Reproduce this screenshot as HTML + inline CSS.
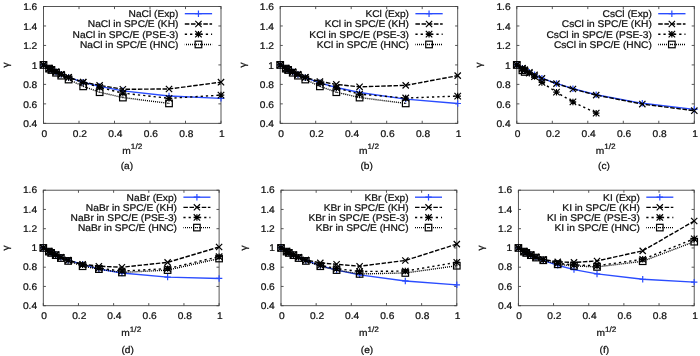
<!DOCTYPE html>
<html><head><meta charset="utf-8"><title>Activity coefficients</title>
<style>html,body{margin:0;padding:0;background:#fff}svg{display:block}text{font-family:"Liberation Sans", sans-serif;font-size:10.2px;fill:#111;stroke:#111;stroke-width:0.25px;text-rendering:geometricPrecision}</style>
</head><body>
<svg width="700" height="356" viewBox="0 0 700 356">
<rect width="700" height="356" fill="#fff"/>
<g><rect x="43.5" y="6.5" width="177.5" height="116.85" fill="none" stroke="#444" stroke-width="0.9"/><path d="M43.5 123.35v-2.6M43.5 6.5v2.6M79 123.35v-2.6M79 6.5v2.6M114.5 123.35v-2.6M114.5 6.5v2.6M150 123.35v-2.6M150 6.5v2.6M185.5 123.35v-2.6M185.5 6.5v2.6M221 123.35v-2.6M221 6.5v2.6M43.5 123.35h2.6M221 123.35h-2.6M43.5 103.87h2.6M221 103.87h-2.6M43.5 84.4h2.6M221 84.4h-2.6M43.5 64.92h2.6M221 64.92h-2.6M43.5 45.45h2.6M221 45.45h-2.6M43.5 25.98h2.6M221 25.98h-2.6M43.5 6.5h2.6M221 6.5h-2.6" stroke="#444" stroke-width="0.9" fill="none"/><text transform="translate(44.3 137.35) scale(1 0.95)" text-anchor="middle">0</text><text transform="translate(79.8 137.35) scale(1 0.95)" text-anchor="middle">0.2</text><text transform="translate(115.3 137.35) scale(1 0.95)" text-anchor="middle">0.4</text><text transform="translate(150.8 137.35) scale(1 0.95)" text-anchor="middle">0.6</text><text transform="translate(186.3 137.35) scale(1 0.95)" text-anchor="middle">0.8</text><text transform="translate(221.8 137.35) scale(1 0.95)" text-anchor="middle">1</text><text transform="translate(37.3 127.05) scale(1 0.95)" text-anchor="end">0.4</text><text transform="translate(37.3 107.57) scale(1 0.95)" text-anchor="end">0.6</text><text transform="translate(37.3 88.1) scale(1 0.95)" text-anchor="end">0.8</text><text transform="translate(37.3 68.62) scale(1 0.95)" text-anchor="end">1</text><text transform="translate(37.3 49.15) scale(1 0.95)" text-anchor="end">1.2</text><text transform="translate(37.3 29.68) scale(1 0.95)" text-anchor="end">1.4</text><text transform="translate(37.3 10.2) scale(1 0.95)" text-anchor="end">1.6</text><text transform="translate(122.35 153.85) scale(1 0.95)">m<tspan dy="-5" font-size="8.2">1/2</tspan></text><text transform="translate(126.95 169.35) scale(1 0.95)" text-anchor="middle" font-size="9.4">(a)</text><text transform="translate(9 64.92) rotate(-90) scale(1 0.95)" text-anchor="middle" font-size="9.2">γ</text><path d="M43.5 64.92L49.11 68.33L51.43 69.6L56.05 71.94L61.25 74.37L68.6 77.39L83.19 82.26L99.63 86.44L122.88 90.83L169.01 95.99L221 98.32" stroke="#2a4cff" stroke-width="1.35" fill="none"/><path d="M40.25 64.92H46.75M43.5 61.67V68.17" stroke="#2a4cff" stroke-width="1.2" fill="none"/><path d="M45.86 68.33H52.36M49.11 65.08V71.58" stroke="#2a4cff" stroke-width="1.2" fill="none"/><path d="M48.18 69.6H54.68M51.43 66.35V72.85" stroke="#2a4cff" stroke-width="1.2" fill="none"/><path d="M52.8 71.94H59.3M56.05 68.69V75.19" stroke="#2a4cff" stroke-width="1.2" fill="none"/><path d="M58 74.37H64.5M61.25 71.12V77.62" stroke="#2a4cff" stroke-width="1.2" fill="none"/><path d="M65.35 77.39H71.85M68.6 74.14V80.64" stroke="#2a4cff" stroke-width="1.2" fill="none"/><path d="M79.94 82.26H86.44M83.19 79.01V85.51" stroke="#2a4cff" stroke-width="1.2" fill="none"/><path d="M96.38 86.44H102.88M99.63 83.19V89.69" stroke="#2a4cff" stroke-width="1.2" fill="none"/><path d="M119.63 90.83H126.13M122.88 87.58V94.08" stroke="#2a4cff" stroke-width="1.2" fill="none"/><path d="M165.76 95.99H172.26M169.01 92.74V99.24" stroke="#2a4cff" stroke-width="1.2" fill="none"/><path d="M217.75 98.32H224.25M221 95.07V101.57" stroke="#2a4cff" stroke-width="1.2" fill="none"/><path d="M43.5 64.92L49.11 68.33L51.43 69.6L56.05 71.94L61.25 74.37L68.6 77.39L83.19 81.97L99.63 85.37L122.88 89.27L169.01 88.98L221 82.16" stroke="#000" stroke-width="1.4" stroke-dasharray="4.55 1.62" fill="none"/><path d="M40.35 61.77L46.65 68.08M40.35 68.08L46.65 61.77" stroke="#000" stroke-width="1.2" fill="none"/><path d="M45.96 65.18L52.26 71.48M45.96 71.48L52.26 65.18" stroke="#000" stroke-width="1.2" fill="none"/><path d="M48.28 66.45L54.58 72.75M48.28 72.75L54.58 66.45" stroke="#000" stroke-width="1.2" fill="none"/><path d="M52.9 68.79L59.2 75.09M52.9 75.09L59.2 68.79" stroke="#000" stroke-width="1.2" fill="none"/><path d="M58.1 71.22L64.4 77.52M58.1 77.52L64.4 71.22" stroke="#000" stroke-width="1.2" fill="none"/><path d="M65.45 74.24L71.75 80.54M65.45 80.54L71.75 74.24" stroke="#000" stroke-width="1.2" fill="none"/><path d="M80.04 78.82L86.34 85.12M80.04 85.12L86.34 78.82" stroke="#000" stroke-width="1.2" fill="none"/><path d="M96.48 82.22L102.78 88.52M96.48 88.52L102.78 82.22" stroke="#000" stroke-width="1.2" fill="none"/><path d="M119.73 86.12L126.03 92.42M119.73 92.42L126.03 86.12" stroke="#000" stroke-width="1.2" fill="none"/><path d="M165.86 85.83L172.16 92.13M165.86 92.13L172.16 85.83" stroke="#000" stroke-width="1.2" fill="none"/><path d="M217.85 79.01L224.15 85.31M217.85 85.31L224.15 79.01" stroke="#000" stroke-width="1.2" fill="none"/><path d="M43.5 64.92L49.11 68.33L51.43 69.6L56.05 71.94L61.25 74.37L68.6 77.39L83.19 82.45L99.63 87.32L122.88 93.16L169.01 98.32L221 95.11" stroke="#000" stroke-width="1.4" stroke-dasharray="2.25 3.0" fill="none"/><path d="M40.25 61.67L46.75 68.17M40.25 68.17L46.75 61.67M40.25 64.92H46.75M43.5 61.67V68.17" stroke="#000" stroke-width="1.2" fill="none"/><path d="M45.86 65.08L52.36 71.58M45.86 71.58L52.36 65.08M45.86 68.33H52.36M49.11 65.08V71.58" stroke="#000" stroke-width="1.2" fill="none"/><path d="M48.18 66.35L54.68 72.85M48.18 72.85L54.68 66.35M48.18 69.6H54.68M51.43 66.35V72.85" stroke="#000" stroke-width="1.2" fill="none"/><path d="M52.8 68.69L59.3 75.19M52.8 75.19L59.3 68.69M52.8 71.94H59.3M56.05 68.69V75.19" stroke="#000" stroke-width="1.2" fill="none"/><path d="M58 71.12L64.5 77.62M58 77.62L64.5 71.12M58 74.37H64.5M61.25 71.12V77.62" stroke="#000" stroke-width="1.2" fill="none"/><path d="M65.35 74.14L71.85 80.64M65.35 80.64L71.85 74.14M65.35 77.39H71.85M68.6 74.14V80.64" stroke="#000" stroke-width="1.2" fill="none"/><path d="M79.94 79.2L86.44 85.7M79.94 85.7L86.44 79.2M79.94 82.45H86.44M83.19 79.2V85.7" stroke="#000" stroke-width="1.2" fill="none"/><path d="M96.38 84.07L102.88 90.57M96.38 90.57L102.88 84.07M96.38 87.32H102.88M99.63 84.07V90.57" stroke="#000" stroke-width="1.2" fill="none"/><path d="M119.63 89.91L126.13 96.41M119.63 96.41L126.13 89.91M119.63 93.16H126.13M122.88 89.91V96.41" stroke="#000" stroke-width="1.2" fill="none"/><path d="M165.76 95.07L172.26 101.57M165.76 101.57L172.26 95.07M165.76 98.32H172.26M169.01 95.07V101.57" stroke="#000" stroke-width="1.2" fill="none"/><path d="M217.75 91.86L224.25 98.36M217.75 98.36L224.25 91.86M217.75 95.11H224.25M221 91.86V98.36" stroke="#000" stroke-width="1.2" fill="none"/><path d="M43.5 64.92L49.11 68.63L51.43 69.99L56.05 72.72L61.25 75.64L68.6 79.53L83.19 86.35L99.63 92.19L122.88 97.55L169.01 103.39" stroke="#000" stroke-width="1.4" stroke-dasharray="1.05 1.0" fill="none"/><rect x="40.2" y="61.62" width="6.6" height="6.6" stroke="#000" stroke-width="1.2" fill="none"/><rect x="43" y="64.42" width="1" height="1" fill="#000"/><rect x="45.81" y="65.33" width="6.6" height="6.6" stroke="#000" stroke-width="1.2" fill="none"/><rect x="48.61" y="68.13" width="1" height="1" fill="#000"/><rect x="48.13" y="66.69" width="6.6" height="6.6" stroke="#000" stroke-width="1.2" fill="none"/><rect x="50.93" y="69.49" width="1" height="1" fill="#000"/><rect x="52.75" y="69.42" width="6.6" height="6.6" stroke="#000" stroke-width="1.2" fill="none"/><rect x="55.55" y="72.22" width="1" height="1" fill="#000"/><rect x="57.95" y="72.34" width="6.6" height="6.6" stroke="#000" stroke-width="1.2" fill="none"/><rect x="60.75" y="75.14" width="1" height="1" fill="#000"/><rect x="65.3" y="76.23" width="6.6" height="6.6" stroke="#000" stroke-width="1.2" fill="none"/><rect x="68.1" y="79.03" width="1" height="1" fill="#000"/><rect x="79.89" y="83.05" width="6.6" height="6.6" stroke="#000" stroke-width="1.2" fill="none"/><rect x="82.69" y="85.85" width="1" height="1" fill="#000"/><rect x="96.33" y="88.89" width="6.6" height="6.6" stroke="#000" stroke-width="1.2" fill="none"/><rect x="99.13" y="91.69" width="1" height="1" fill="#000"/><rect x="119.58" y="94.25" width="6.6" height="6.6" stroke="#000" stroke-width="1.2" fill="none"/><rect x="122.38" y="97.05" width="1" height="1" fill="#000"/><rect x="165.71" y="100.09" width="6.6" height="6.6" stroke="#000" stroke-width="1.2" fill="none"/><rect x="168.51" y="102.89" width="1" height="1" fill="#000"/><text transform="translate(178.4 17) scale(1 0.95)" text-anchor="end">NaCl (Exp)</text><path d="M184.8 13.7H212.1" stroke="#2a4cff" stroke-width="1.35"/><path d="M195.2 13.7H201.7M198.45 10.45V16.95" stroke="#2a4cff" stroke-width="1.2" fill="none"/><text transform="translate(178.4 27.25) scale(1 0.95)" text-anchor="end">NaCl in SPC/E (KH)</text><path d="M184.8 23.95H212.1" stroke="#000" stroke-width="1.4" stroke-dasharray="4.55 1.62"/><path d="M195.3 20.8L201.6 27.1M195.3 27.1L201.6 20.8" stroke="#000" stroke-width="1.2" fill="none"/><text transform="translate(178.4 37.5) scale(1 0.95)" text-anchor="end">NaCl in SPC/E (PSE-3)</text><path d="M184.8 34.2H212.1" stroke="#000" stroke-width="1.4" stroke-dasharray="2.25 3.0"/><path d="M195.2 30.95L201.7 37.45M195.2 37.45L201.7 30.95M195.2 34.2H201.7M198.45 30.95V37.45" stroke="#000" stroke-width="1.2" fill="none"/><text transform="translate(178.4 47.75) scale(1 0.95)" text-anchor="end">NaCl in SPC/E (HNC)</text><path d="M184.8 44.45H212.1" stroke="#000" stroke-width="1.4" stroke-dasharray="1 1" stroke-dashoffset="0.8"/><rect x="195.15" y="41.15" width="6.6" height="6.6" stroke="#000" stroke-width="1.2" fill="none"/><rect x="197.95" y="43.95" width="1" height="1" fill="#000"/></g>
<g><rect x="280.2" y="6.5" width="177.5" height="116.85" fill="none" stroke="#444" stroke-width="0.9"/><path d="M280.2 123.35v-2.6M280.2 6.5v2.6M315.7 123.35v-2.6M315.7 6.5v2.6M351.2 123.35v-2.6M351.2 6.5v2.6M386.7 123.35v-2.6M386.7 6.5v2.6M422.2 123.35v-2.6M422.2 6.5v2.6M457.7 123.35v-2.6M457.7 6.5v2.6M280.2 123.35h2.6M457.7 123.35h-2.6M280.2 103.87h2.6M457.7 103.87h-2.6M280.2 84.4h2.6M457.7 84.4h-2.6M280.2 64.92h2.6M457.7 64.92h-2.6M280.2 45.45h2.6M457.7 45.45h-2.6M280.2 25.98h2.6M457.7 25.98h-2.6M280.2 6.5h2.6M457.7 6.5h-2.6" stroke="#444" stroke-width="0.9" fill="none"/><text transform="translate(281 137.35) scale(1 0.95)" text-anchor="middle">0</text><text transform="translate(316.5 137.35) scale(1 0.95)" text-anchor="middle">0.2</text><text transform="translate(352 137.35) scale(1 0.95)" text-anchor="middle">0.4</text><text transform="translate(387.5 137.35) scale(1 0.95)" text-anchor="middle">0.6</text><text transform="translate(423 137.35) scale(1 0.95)" text-anchor="middle">0.8</text><text transform="translate(458.5 137.35) scale(1 0.95)" text-anchor="middle">1</text><text transform="translate(274 127.05) scale(1 0.95)" text-anchor="end">0.4</text><text transform="translate(274 107.57) scale(1 0.95)" text-anchor="end">0.6</text><text transform="translate(274 88.1) scale(1 0.95)" text-anchor="end">0.8</text><text transform="translate(274 68.62) scale(1 0.95)" text-anchor="end">1</text><text transform="translate(274 49.15) scale(1 0.95)" text-anchor="end">1.2</text><text transform="translate(274 29.68) scale(1 0.95)" text-anchor="end">1.4</text><text transform="translate(274 10.2) scale(1 0.95)" text-anchor="end">1.6</text><text transform="translate(359.05 153.85) scale(1 0.95)">m<tspan dy="-5" font-size="8.2">1/2</tspan></text><text transform="translate(366.65 169.35) scale(1 0.95)" text-anchor="middle" font-size="9.4">(b)</text><text transform="translate(245.7 64.92) rotate(-90) scale(1 0.95)" text-anchor="middle" font-size="9.2">γ</text><path d="M280.2 64.92L285.81 68.33L288.13 69.7L292.75 72.03L297.95 74.57L305.3 77.68L319.89 82.84L336.33 87.52L359.58 92.48L405.71 99.1L457.7 103.49" stroke="#2a4cff" stroke-width="1.35" fill="none"/><path d="M276.95 64.92H283.45M280.2 61.67V68.17" stroke="#2a4cff" stroke-width="1.2" fill="none"/><path d="M282.56 68.33H289.06M285.81 65.08V71.58" stroke="#2a4cff" stroke-width="1.2" fill="none"/><path d="M284.88 69.7H291.38M288.13 66.45V72.95" stroke="#2a4cff" stroke-width="1.2" fill="none"/><path d="M289.5 72.03H296M292.75 68.78V75.28" stroke="#2a4cff" stroke-width="1.2" fill="none"/><path d="M294.7 74.57H301.2M297.95 71.32V77.82" stroke="#2a4cff" stroke-width="1.2" fill="none"/><path d="M302.05 77.68H308.55M305.3 74.43V80.93" stroke="#2a4cff" stroke-width="1.2" fill="none"/><path d="M316.64 82.84H323.14M319.89 79.59V86.09" stroke="#2a4cff" stroke-width="1.2" fill="none"/><path d="M333.08 87.52H339.58M336.33 84.27V90.77" stroke="#2a4cff" stroke-width="1.2" fill="none"/><path d="M356.33 92.48H362.83M359.58 89.23V95.73" stroke="#2a4cff" stroke-width="1.2" fill="none"/><path d="M402.46 99.1H408.96M405.71 95.85V102.35" stroke="#2a4cff" stroke-width="1.2" fill="none"/><path d="M454.45 103.49H460.95M457.7 100.24V106.74" stroke="#2a4cff" stroke-width="1.2" fill="none"/><path d="M280.2 64.92L285.81 68.33L288.13 69.6L292.75 71.94L297.95 74.37L305.3 77.39L319.89 81.48L336.33 84.4L359.58 86.83L405.71 85.37L457.7 75.64" stroke="#000" stroke-width="1.4" stroke-dasharray="4.55 1.62" fill="none"/><path d="M277.05 61.77L283.35 68.08M277.05 68.08L283.35 61.77" stroke="#000" stroke-width="1.2" fill="none"/><path d="M282.66 65.18L288.96 71.48M282.66 71.48L288.96 65.18" stroke="#000" stroke-width="1.2" fill="none"/><path d="M284.98 66.45L291.28 72.75M284.98 72.75L291.28 66.45" stroke="#000" stroke-width="1.2" fill="none"/><path d="M289.6 68.79L295.9 75.09M289.6 75.09L295.9 68.79" stroke="#000" stroke-width="1.2" fill="none"/><path d="M294.8 71.22L301.1 77.52M294.8 77.52L301.1 71.22" stroke="#000" stroke-width="1.2" fill="none"/><path d="M302.15 74.24L308.45 80.54M302.15 80.54L308.45 74.24" stroke="#000" stroke-width="1.2" fill="none"/><path d="M316.74 78.33L323.04 84.63M316.74 84.63L323.04 78.33" stroke="#000" stroke-width="1.2" fill="none"/><path d="M333.18 81.25L339.48 87.55M333.18 87.55L339.48 81.25" stroke="#000" stroke-width="1.2" fill="none"/><path d="M356.43 83.68L362.73 89.98M356.43 89.98L362.73 83.68" stroke="#000" stroke-width="1.2" fill="none"/><path d="M402.56 82.22L408.86 88.52M402.56 88.52L408.86 82.22" stroke="#000" stroke-width="1.2" fill="none"/><path d="M454.55 72.49L460.85 78.79M454.55 78.79L460.85 72.49" stroke="#000" stroke-width="1.2" fill="none"/><path d="M280.2 64.92L285.81 68.33L288.13 69.6L292.75 71.94L297.95 74.37L305.3 77.39L319.89 82.94L336.33 87.81L359.58 94.14L405.71 98.03L457.7 96.08" stroke="#000" stroke-width="1.4" stroke-dasharray="2.25 3.0" fill="none"/><path d="M276.95 61.67L283.45 68.17M276.95 68.17L283.45 61.67M276.95 64.92H283.45M280.2 61.67V68.17" stroke="#000" stroke-width="1.2" fill="none"/><path d="M282.56 65.08L289.06 71.58M282.56 71.58L289.06 65.08M282.56 68.33H289.06M285.81 65.08V71.58" stroke="#000" stroke-width="1.2" fill="none"/><path d="M284.88 66.35L291.38 72.85M284.88 72.85L291.38 66.35M284.88 69.6H291.38M288.13 66.35V72.85" stroke="#000" stroke-width="1.2" fill="none"/><path d="M289.5 68.69L296 75.19M289.5 75.19L296 68.69M289.5 71.94H296M292.75 68.69V75.19" stroke="#000" stroke-width="1.2" fill="none"/><path d="M294.7 71.12L301.2 77.62M294.7 77.62L301.2 71.12M294.7 74.37H301.2M297.95 71.12V77.62" stroke="#000" stroke-width="1.2" fill="none"/><path d="M302.05 74.14L308.55 80.64M302.05 80.64L308.55 74.14M302.05 77.39H308.55M305.3 74.14V80.64" stroke="#000" stroke-width="1.2" fill="none"/><path d="M316.64 79.69L323.14 86.19M316.64 86.19L323.14 79.69M316.64 82.94H323.14M319.89 79.69V86.19" stroke="#000" stroke-width="1.2" fill="none"/><path d="M333.08 84.56L339.58 91.06M333.08 91.06L339.58 84.56M333.08 87.81H339.58M336.33 84.56V91.06" stroke="#000" stroke-width="1.2" fill="none"/><path d="M356.33 90.89L362.83 97.39M356.33 97.39L362.83 90.89M356.33 94.14H362.83M359.58 90.89V97.39" stroke="#000" stroke-width="1.2" fill="none"/><path d="M402.46 94.78L408.96 101.28M402.46 101.28L408.96 94.78M402.46 98.03H408.96M405.71 94.78V101.28" stroke="#000" stroke-width="1.2" fill="none"/><path d="M454.45 92.83L460.95 99.33M454.45 99.33L460.95 92.83M454.45 96.08H460.95M457.7 92.83V99.33" stroke="#000" stroke-width="1.2" fill="none"/><path d="M280.2 64.92L285.81 68.63L288.13 69.99L292.75 72.72L297.95 75.64L305.3 79.53L319.89 86.35L336.33 92.19L359.58 97.55L405.71 103.39" stroke="#000" stroke-width="1.4" stroke-dasharray="1.05 1.0" fill="none"/><rect x="276.9" y="61.62" width="6.6" height="6.6" stroke="#000" stroke-width="1.2" fill="none"/><rect x="279.7" y="64.42" width="1" height="1" fill="#000"/><rect x="282.51" y="65.33" width="6.6" height="6.6" stroke="#000" stroke-width="1.2" fill="none"/><rect x="285.31" y="68.13" width="1" height="1" fill="#000"/><rect x="284.83" y="66.69" width="6.6" height="6.6" stroke="#000" stroke-width="1.2" fill="none"/><rect x="287.63" y="69.49" width="1" height="1" fill="#000"/><rect x="289.45" y="69.42" width="6.6" height="6.6" stroke="#000" stroke-width="1.2" fill="none"/><rect x="292.25" y="72.22" width="1" height="1" fill="#000"/><rect x="294.65" y="72.34" width="6.6" height="6.6" stroke="#000" stroke-width="1.2" fill="none"/><rect x="297.45" y="75.14" width="1" height="1" fill="#000"/><rect x="302" y="76.23" width="6.6" height="6.6" stroke="#000" stroke-width="1.2" fill="none"/><rect x="304.8" y="79.03" width="1" height="1" fill="#000"/><rect x="316.59" y="83.05" width="6.6" height="6.6" stroke="#000" stroke-width="1.2" fill="none"/><rect x="319.39" y="85.85" width="1" height="1" fill="#000"/><rect x="333.03" y="88.89" width="6.6" height="6.6" stroke="#000" stroke-width="1.2" fill="none"/><rect x="335.83" y="91.69" width="1" height="1" fill="#000"/><rect x="356.28" y="94.25" width="6.6" height="6.6" stroke="#000" stroke-width="1.2" fill="none"/><rect x="359.08" y="97.05" width="1" height="1" fill="#000"/><rect x="402.41" y="100.09" width="6.6" height="6.6" stroke="#000" stroke-width="1.2" fill="none"/><rect x="405.21" y="102.89" width="1" height="1" fill="#000"/><text transform="translate(409 17) scale(1 0.95)" text-anchor="end">KCl (Exp)</text><path d="M415.4 13.7H442.7" stroke="#2a4cff" stroke-width="1.35"/><path d="M425.8 13.7H432.3M429.05 10.45V16.95" stroke="#2a4cff" stroke-width="1.2" fill="none"/><text transform="translate(409 27.25) scale(1 0.95)" text-anchor="end">KCl in SPC/E (KH)</text><path d="M415.4 23.95H442.7" stroke="#000" stroke-width="1.4" stroke-dasharray="4.55 1.62"/><path d="M425.9 20.8L432.2 27.1M425.9 27.1L432.2 20.8" stroke="#000" stroke-width="1.2" fill="none"/><text transform="translate(409 37.5) scale(1 0.95)" text-anchor="end">KCl in SPC/E (PSE-3)</text><path d="M415.4 34.2H442.7" stroke="#000" stroke-width="1.4" stroke-dasharray="2.25 3.0"/><path d="M425.8 30.95L432.3 37.45M425.8 37.45L432.3 30.95M425.8 34.2H432.3M429.05 30.95V37.45" stroke="#000" stroke-width="1.2" fill="none"/><text transform="translate(409 47.75) scale(1 0.95)" text-anchor="end">KCl in SPC/E (HNC)</text><path d="M415.4 44.45H442.7" stroke="#000" stroke-width="1.4" stroke-dasharray="1 1" stroke-dashoffset="0.4"/><rect x="425.75" y="41.15" width="6.6" height="6.6" stroke="#000" stroke-width="1.2" fill="none"/><rect x="428.55" y="43.95" width="1" height="1" fill="#000"/></g>
<g><rect x="516.8" y="6.5" width="177.5" height="116.85" fill="none" stroke="#444" stroke-width="0.9"/><path d="M516.8 123.35v-2.6M516.8 6.5v2.6M552.3 123.35v-2.6M552.3 6.5v2.6M587.8 123.35v-2.6M587.8 6.5v2.6M623.3 123.35v-2.6M623.3 6.5v2.6M658.8 123.35v-2.6M658.8 6.5v2.6M694.3 123.35v-2.6M694.3 6.5v2.6M516.8 123.35h2.6M694.3 123.35h-2.6M516.8 103.87h2.6M694.3 103.87h-2.6M516.8 84.4h2.6M694.3 84.4h-2.6M516.8 64.92h2.6M694.3 64.92h-2.6M516.8 45.45h2.6M694.3 45.45h-2.6M516.8 25.98h2.6M694.3 25.98h-2.6M516.8 6.5h2.6M694.3 6.5h-2.6" stroke="#444" stroke-width="0.9" fill="none"/><text transform="translate(517.6 137.35) scale(1 0.95)" text-anchor="middle">0</text><text transform="translate(553.1 137.35) scale(1 0.95)" text-anchor="middle">0.2</text><text transform="translate(588.6 137.35) scale(1 0.95)" text-anchor="middle">0.4</text><text transform="translate(624.1 137.35) scale(1 0.95)" text-anchor="middle">0.6</text><text transform="translate(659.6 137.35) scale(1 0.95)" text-anchor="middle">0.8</text><text transform="translate(695.1 137.35) scale(1 0.95)" text-anchor="middle">1</text><text transform="translate(510.6 127.05) scale(1 0.95)" text-anchor="end">0.4</text><text transform="translate(510.6 107.57) scale(1 0.95)" text-anchor="end">0.6</text><text transform="translate(510.6 88.1) scale(1 0.95)" text-anchor="end">0.8</text><text transform="translate(510.6 68.62) scale(1 0.95)" text-anchor="end">1</text><text transform="translate(510.6 49.15) scale(1 0.95)" text-anchor="end">1.2</text><text transform="translate(510.6 29.68) scale(1 0.95)" text-anchor="end">1.4</text><text transform="translate(510.6 10.2) scale(1 0.95)" text-anchor="end">1.6</text><text transform="translate(595.65 153.85) scale(1 0.95)">m<tspan dy="-5" font-size="8.2">1/2</tspan></text><text transform="translate(604.05 169.35) scale(1 0.95)" text-anchor="middle" font-size="9.4">(c)</text><text transform="translate(482.3 64.92) rotate(-90) scale(1 0.95)" text-anchor="middle" font-size="9.2">γ</text><path d="M516.8 64.92L522.41 68.33L524.73 69.79L529.35 72.23L534.55 74.86L541.9 78.36L556.49 83.43L572.93 88.68L596.18 94.72L642.31 103.29L694.3 109.33" stroke="#2a4cff" stroke-width="1.35" fill="none"/><path d="M513.55 64.92H520.05M516.8 61.67V68.17" stroke="#2a4cff" stroke-width="1.2" fill="none"/><path d="M519.16 68.33H525.66M522.41 65.08V71.58" stroke="#2a4cff" stroke-width="1.2" fill="none"/><path d="M521.48 69.79H527.98M524.73 66.54V73.04" stroke="#2a4cff" stroke-width="1.2" fill="none"/><path d="M526.1 72.23H532.6M529.35 68.98V75.48" stroke="#2a4cff" stroke-width="1.2" fill="none"/><path d="M531.3 74.86H537.8M534.55 71.61V78.11" stroke="#2a4cff" stroke-width="1.2" fill="none"/><path d="M538.65 78.36H545.15M541.9 75.11V81.61" stroke="#2a4cff" stroke-width="1.2" fill="none"/><path d="M553.24 83.43H559.74M556.49 80.18V86.68" stroke="#2a4cff" stroke-width="1.2" fill="none"/><path d="M569.68 88.68H576.18M572.93 85.43V91.93" stroke="#2a4cff" stroke-width="1.2" fill="none"/><path d="M592.93 94.72H599.43M596.18 91.47V97.97" stroke="#2a4cff" stroke-width="1.2" fill="none"/><path d="M639.06 103.29H645.56M642.31 100.04V106.54" stroke="#2a4cff" stroke-width="1.2" fill="none"/><path d="M691.05 109.33H697.55M694.3 106.08V112.58" stroke="#2a4cff" stroke-width="1.2" fill="none"/><path d="M516.8 64.92L522.41 68.33L524.73 69.79L529.35 72.23L534.55 74.86L541.9 78.36L556.49 83.62L572.93 88.98L596.18 95.11L642.31 104.07L694.3 110.69" stroke="#000" stroke-width="1.4" stroke-dasharray="4.55 1.62" fill="none"/><path d="M513.65 61.77L519.95 68.08M513.65 68.08L519.95 61.77" stroke="#000" stroke-width="1.2" fill="none"/><path d="M519.26 65.18L525.56 71.48M519.26 71.48L525.56 65.18" stroke="#000" stroke-width="1.2" fill="none"/><path d="M521.58 66.64L527.88 72.94M521.58 72.94L527.88 66.64" stroke="#000" stroke-width="1.2" fill="none"/><path d="M526.2 69.08L532.5 75.38M526.2 75.38L532.5 69.08" stroke="#000" stroke-width="1.2" fill="none"/><path d="M531.4 71.71L537.7 78.01M531.4 78.01L537.7 71.71" stroke="#000" stroke-width="1.2" fill="none"/><path d="M538.75 75.21L545.05 81.51M538.75 81.51L545.05 75.21" stroke="#000" stroke-width="1.2" fill="none"/><path d="M553.34 80.47L559.64 86.77M553.34 86.77L559.64 80.47" stroke="#000" stroke-width="1.2" fill="none"/><path d="M569.78 85.83L576.08 92.13M569.78 92.13L576.08 85.83" stroke="#000" stroke-width="1.2" fill="none"/><path d="M593.03 91.96L599.33 98.26M593.03 98.26L599.33 91.96" stroke="#000" stroke-width="1.2" fill="none"/><path d="M639.16 100.92L645.46 107.22M639.16 107.22L645.46 100.92" stroke="#000" stroke-width="1.2" fill="none"/><path d="M691.15 107.54L697.45 113.84M691.15 113.84L697.45 107.54" stroke="#000" stroke-width="1.2" fill="none"/><path d="M516.8 64.92L522.41 68.53L524.73 70.28L529.35 73.2L534.55 76.61L541.9 82.45L556.49 92.19L572.93 101.93L596.18 113.13" stroke="#000" stroke-width="1.4" stroke-dasharray="2.25 3.0" fill="none"/><path d="M513.55 61.67L520.05 68.17M513.55 68.17L520.05 61.67M513.55 64.92H520.05M516.8 61.67V68.17" stroke="#000" stroke-width="1.2" fill="none"/><path d="M519.16 65.28L525.66 71.78M519.16 71.78L525.66 65.28M519.16 68.53H525.66M522.41 65.28V71.78" stroke="#000" stroke-width="1.2" fill="none"/><path d="M521.48 67.03L527.98 73.53M521.48 73.53L527.98 67.03M521.48 70.28H527.98M524.73 67.03V73.53" stroke="#000" stroke-width="1.2" fill="none"/><path d="M526.1 69.95L532.6 76.45M526.1 76.45L532.6 69.95M526.1 73.2H532.6M529.35 69.95V76.45" stroke="#000" stroke-width="1.2" fill="none"/><path d="M531.3 73.36L537.8 79.86M531.3 79.86L537.8 73.36M531.3 76.61H537.8M534.55 73.36V79.86" stroke="#000" stroke-width="1.2" fill="none"/><path d="M538.65 79.2L545.15 85.7M538.65 85.7L545.15 79.2M538.65 82.45H545.15M541.9 79.2V85.7" stroke="#000" stroke-width="1.2" fill="none"/><path d="M553.24 88.94L559.74 95.44M553.24 95.44L559.74 88.94M553.24 92.19H559.74M556.49 88.94V95.44" stroke="#000" stroke-width="1.2" fill="none"/><path d="M569.68 98.68L576.18 105.18M569.68 105.18L576.18 98.68M569.68 101.93H576.18M572.93 98.68V105.18" stroke="#000" stroke-width="1.2" fill="none"/><path d="M592.93 109.88L599.43 116.38M592.93 116.38L599.43 109.88M592.93 113.13H599.43M596.18 109.88V116.38" stroke="#000" stroke-width="1.2" fill="none"/><path d="M516.8 64.92L522.41 70.28L524.73 71.94" stroke="#000" stroke-width="1.4" stroke-dasharray="1.05 1.0" fill="none"/><rect x="513.5" y="61.62" width="6.6" height="6.6" stroke="#000" stroke-width="1.2" fill="none"/><rect x="516.3" y="64.42" width="1" height="1" fill="#000"/><rect x="519.11" y="66.98" width="6.6" height="6.6" stroke="#000" stroke-width="1.2" fill="none"/><rect x="521.91" y="69.78" width="1" height="1" fill="#000"/><rect x="521.43" y="68.64" width="6.6" height="6.6" stroke="#000" stroke-width="1.2" fill="none"/><rect x="524.23" y="71.44" width="1" height="1" fill="#000"/><text transform="translate(651.8 17) scale(1 0.95)" text-anchor="end">CsCl (Exp)</text><path d="M658.2 13.7H685.5" stroke="#2a4cff" stroke-width="1.35"/><path d="M668.6 13.7H675.1M671.85 10.45V16.95" stroke="#2a4cff" stroke-width="1.2" fill="none"/><text transform="translate(651.8 27.25) scale(1 0.95)" text-anchor="end">CsCl in SPC/E (KH)</text><path d="M658.2 23.95H685.5" stroke="#000" stroke-width="1.4" stroke-dasharray="4.55 1.62"/><path d="M668.7 20.8L675 27.1M668.7 27.1L675 20.8" stroke="#000" stroke-width="1.2" fill="none"/><text transform="translate(651.8 37.5) scale(1 0.95)" text-anchor="end">CsCl in SPC/E (PSE-3)</text><path d="M658.2 34.2H685.5" stroke="#000" stroke-width="1.4" stroke-dasharray="2.25 3.0"/><path d="M668.6 30.95L675.1 37.45M668.6 37.45L675.1 30.95M668.6 34.2H675.1M671.85 30.95V37.45" stroke="#000" stroke-width="1.2" fill="none"/><text transform="translate(651.8 47.75) scale(1 0.95)" text-anchor="end">CsCl in SPC/E (HNC)</text><path d="M658.2 44.45H685.5" stroke="#000" stroke-width="1.4" stroke-dasharray="1 1" stroke-dashoffset="0.2"/><rect x="668.55" y="41.15" width="6.6" height="6.6" stroke="#000" stroke-width="1.2" fill="none"/><rect x="671.35" y="43.95" width="1" height="1" fill="#000"/></g>
<g><rect x="43.3" y="190.2" width="175.8" height="115.5" fill="none" stroke="#444" stroke-width="0.9"/><path d="M43.3 305.7v-2.6M43.3 190.2v2.6M78.46 305.7v-2.6M78.46 190.2v2.6M113.62 305.7v-2.6M113.62 190.2v2.6M148.78 305.7v-2.6M148.78 190.2v2.6M183.94 305.7v-2.6M183.94 190.2v2.6M219.1 305.7v-2.6M219.1 190.2v2.6M43.3 305.7h2.6M219.1 305.7h-2.6M43.3 286.45h2.6M219.1 286.45h-2.6M43.3 267.2h2.6M219.1 267.2h-2.6M43.3 247.95h2.6M219.1 247.95h-2.6M43.3 228.7h2.6M219.1 228.7h-2.6M43.3 209.45h2.6M219.1 209.45h-2.6M43.3 190.2h2.6M219.1 190.2h-2.6" stroke="#444" stroke-width="0.9" fill="none"/><text transform="translate(44.1 319) scale(1 0.95)" text-anchor="middle">0</text><text transform="translate(79.26 319) scale(1 0.95)" text-anchor="middle">0.2</text><text transform="translate(114.42 319) scale(1 0.95)" text-anchor="middle">0.4</text><text transform="translate(149.58 319) scale(1 0.95)" text-anchor="middle">0.6</text><text transform="translate(184.74 319) scale(1 0.95)" text-anchor="middle">0.8</text><text transform="translate(219.9 319) scale(1 0.95)" text-anchor="middle">1</text><text transform="translate(37.1 308.9) scale(1 0.95)" text-anchor="end">0.4</text><text transform="translate(37.1 289.65) scale(1 0.95)" text-anchor="end">0.6</text><text transform="translate(37.1 270.4) scale(1 0.95)" text-anchor="end">0.8</text><text transform="translate(37.1 251.15) scale(1 0.95)" text-anchor="end">1</text><text transform="translate(37.1 231.9) scale(1 0.95)" text-anchor="end">1.2</text><text transform="translate(37.1 212.65) scale(1 0.95)" text-anchor="end">1.4</text><text transform="translate(37.1 193.4) scale(1 0.95)" text-anchor="end">1.6</text><text transform="translate(121.3 336.3) scale(1 0.95)">m<tspan dy="-5" font-size="8.2">1/2</tspan></text><text transform="translate(127.6 353.4) scale(1 0.95)" text-anchor="middle" font-size="9.4">(d)</text><text transform="translate(8.8 247.95) rotate(-90) scale(1 0.95)" text-anchor="middle" font-size="9.2">γ</text><path d="M43.3 247.95L48.86 251.32L51.16 252.57L55.73 254.78L60.88 257.29L68.16 260.17L82.61 264.31L98.89 269.12L121.92 272.97L167.61 277.11L219.1 278.46" stroke="#2a4cff" stroke-width="1.35" fill="none"/><path d="M40.08 247.95H46.52M43.3 244.73V251.17" stroke="#2a4cff" stroke-width="1.2" fill="none"/><path d="M45.64 251.32H52.07M48.86 248.1V254.54" stroke="#2a4cff" stroke-width="1.2" fill="none"/><path d="M47.94 252.57H54.38M51.16 249.35V255.79" stroke="#2a4cff" stroke-width="1.2" fill="none"/><path d="M52.51 254.78H58.95M55.73 251.57V258" stroke="#2a4cff" stroke-width="1.2" fill="none"/><path d="M57.66 257.29H64.1M60.88 254.07V260.5" stroke="#2a4cff" stroke-width="1.2" fill="none"/><path d="M64.94 260.17H71.38M68.16 256.96V263.39" stroke="#2a4cff" stroke-width="1.2" fill="none"/><path d="M79.39 264.31H85.83M82.61 261.1V267.53" stroke="#2a4cff" stroke-width="1.2" fill="none"/><path d="M95.67 269.12H102.11M98.89 265.91V272.34" stroke="#2a4cff" stroke-width="1.2" fill="none"/><path d="M118.7 272.97H125.14M121.92 269.76V276.19" stroke="#2a4cff" stroke-width="1.2" fill="none"/><path d="M164.39 277.11H170.83M167.61 273.9V280.33" stroke="#2a4cff" stroke-width="1.2" fill="none"/><path d="M215.88 278.46H222.32M219.1 275.24V281.68" stroke="#2a4cff" stroke-width="1.2" fill="none"/><path d="M43.3 247.95L48.86 251.32L51.16 252.57L55.73 254.78L60.88 257.29L68.16 260.17L82.61 264.31L98.89 266.24L121.92 267.2L167.61 262.39L219.1 246.99" stroke="#000" stroke-width="1.4" stroke-dasharray="4.5 1.62" fill="none"/><path d="M40.18 244.83L46.42 251.07M40.18 251.07L46.42 244.83" stroke="#000" stroke-width="1.2" fill="none"/><path d="M45.74 248.2L51.97 254.44M45.74 254.44L51.97 248.2" stroke="#000" stroke-width="1.2" fill="none"/><path d="M48.04 249.45L54.28 255.69M48.04 255.69L54.28 249.45" stroke="#000" stroke-width="1.2" fill="none"/><path d="M52.61 251.67L58.85 257.9M52.61 257.9L58.85 251.67" stroke="#000" stroke-width="1.2" fill="none"/><path d="M57.76 254.17L64 260.4M57.76 260.4L64 254.17" stroke="#000" stroke-width="1.2" fill="none"/><path d="M65.04 257.06L71.28 263.29M65.04 263.29L71.28 257.06" stroke="#000" stroke-width="1.2" fill="none"/><path d="M79.49 261.19L85.73 267.43M79.49 267.43L85.73 261.19" stroke="#000" stroke-width="1.2" fill="none"/><path d="M95.77 263.12L102.01 269.36M95.77 269.36L102.01 263.12" stroke="#000" stroke-width="1.2" fill="none"/><path d="M118.8 264.08L125.04 270.32M118.8 270.32L125.04 264.08" stroke="#000" stroke-width="1.2" fill="none"/><path d="M164.49 259.27L170.73 265.51M164.49 265.51L170.73 259.27" stroke="#000" stroke-width="1.2" fill="none"/><path d="M215.98 243.87L222.22 250.11M215.98 250.11L222.22 243.87" stroke="#000" stroke-width="1.2" fill="none"/><path d="M43.3 247.95L48.86 251.32L51.16 252.57L55.73 254.78L60.88 257.29L68.16 260.17L82.61 264.79L98.89 268.16L121.92 271.05L167.61 268.64L219.1 256.61" stroke="#000" stroke-width="1.4" stroke-dasharray="2.2 3.0" fill="none"/><path d="M40.08 244.73L46.52 251.17M40.08 251.17L46.52 244.73M40.08 247.95H46.52M43.3 244.73V251.17" stroke="#000" stroke-width="1.2" fill="none"/><path d="M45.64 248.1L52.07 254.54M45.64 254.54L52.07 248.1M45.64 251.32H52.07M48.86 248.1V254.54" stroke="#000" stroke-width="1.2" fill="none"/><path d="M47.94 249.35L54.38 255.79M47.94 255.79L54.38 249.35M47.94 252.57H54.38M51.16 249.35V255.79" stroke="#000" stroke-width="1.2" fill="none"/><path d="M52.51 251.57L58.95 258M52.51 258L58.95 251.57M52.51 254.78H58.95M55.73 251.57V258" stroke="#000" stroke-width="1.2" fill="none"/><path d="M57.66 254.07L64.1 260.5M57.66 260.5L64.1 254.07M57.66 257.29H64.1M60.88 254.07V260.5" stroke="#000" stroke-width="1.2" fill="none"/><path d="M64.94 256.96L71.38 263.39M64.94 263.39L71.38 256.96M64.94 260.17H71.38M68.16 256.96V263.39" stroke="#000" stroke-width="1.2" fill="none"/><path d="M79.39 261.58L85.83 268.01M79.39 268.01L85.83 261.58M79.39 264.79H85.83M82.61 261.58V268.01" stroke="#000" stroke-width="1.2" fill="none"/><path d="M95.67 264.94L102.11 271.38M95.67 271.38L102.11 264.94M95.67 268.16H102.11M98.89 264.94V271.38" stroke="#000" stroke-width="1.2" fill="none"/><path d="M118.7 267.83L125.14 274.27M118.7 274.27L125.14 267.83M118.7 271.05H125.14M121.92 267.83V274.27" stroke="#000" stroke-width="1.2" fill="none"/><path d="M164.39 265.43L170.83 271.86M164.39 271.86L170.83 265.43M164.39 268.64H170.83M167.61 265.43V271.86" stroke="#000" stroke-width="1.2" fill="none"/><path d="M215.88 253.39L222.32 259.83M215.88 259.83L222.32 253.39M215.88 256.61H222.32M219.1 253.39V259.83" stroke="#000" stroke-width="1.2" fill="none"/><path d="M43.3 247.95L48.86 251.61L51.16 252.95L55.73 255.17L60.88 258.06L68.16 260.94L82.61 266.24L98.89 269.12L121.92 272.49L167.61 270.09L219.1 258.54" stroke="#000" stroke-width="1.4" stroke-dasharray="1.04 1.0" fill="none"/><rect x="40.03" y="244.68" width="6.53" height="6.53" stroke="#000" stroke-width="1.2" fill="none"/><rect x="42.8" y="247.45" width="1" height="1" fill="#000"/><rect x="45.59" y="248.34" width="6.53" height="6.53" stroke="#000" stroke-width="1.2" fill="none"/><rect x="48.36" y="251.11" width="1" height="1" fill="#000"/><rect x="47.89" y="249.69" width="6.53" height="6.53" stroke="#000" stroke-width="1.2" fill="none"/><rect x="50.66" y="252.45" width="1" height="1" fill="#000"/><rect x="52.46" y="251.9" width="6.53" height="6.53" stroke="#000" stroke-width="1.2" fill="none"/><rect x="55.23" y="254.67" width="1" height="1" fill="#000"/><rect x="57.61" y="254.79" width="6.53" height="6.53" stroke="#000" stroke-width="1.2" fill="none"/><rect x="60.38" y="257.56" width="1" height="1" fill="#000"/><rect x="64.89" y="257.68" width="6.53" height="6.53" stroke="#000" stroke-width="1.2" fill="none"/><rect x="67.66" y="260.44" width="1" height="1" fill="#000"/><rect x="79.34" y="262.97" width="6.53" height="6.53" stroke="#000" stroke-width="1.2" fill="none"/><rect x="82.11" y="265.74" width="1" height="1" fill="#000"/><rect x="95.62" y="265.86" width="6.53" height="6.53" stroke="#000" stroke-width="1.2" fill="none"/><rect x="98.39" y="268.62" width="1" height="1" fill="#000"/><rect x="118.65" y="269.23" width="6.53" height="6.53" stroke="#000" stroke-width="1.2" fill="none"/><rect x="121.42" y="271.99" width="1" height="1" fill="#000"/><rect x="164.34" y="266.82" width="6.53" height="6.53" stroke="#000" stroke-width="1.2" fill="none"/><rect x="167.11" y="269.59" width="1" height="1" fill="#000"/><rect x="215.83" y="255.27" width="6.53" height="6.53" stroke="#000" stroke-width="1.2" fill="none"/><rect x="218.6" y="258.04" width="1" height="1" fill="#000"/><text transform="translate(177 200.5) scale(1 0.95)" text-anchor="end">NaBr (Exp)</text><path d="M183.4 197.2H210.43" stroke="#2a4cff" stroke-width="1.35"/><path d="M193.7 197.2H200.13M196.91 193.98V200.42" stroke="#2a4cff" stroke-width="1.2" fill="none"/><text transform="translate(177 210.63) scale(1 0.95)" text-anchor="end">NaBr in SPC/E (KH)</text><path d="M183.4 207.33H210.43" stroke="#000" stroke-width="1.4" stroke-dasharray="4.5 1.62"/><path d="M193.79 204.21L200.03 210.45M193.79 210.45L200.03 204.21" stroke="#000" stroke-width="1.2" fill="none"/><text transform="translate(177 220.76) scale(1 0.95)" text-anchor="end">NaBr in SPC/E (PSE-3)</text><path d="M183.4 217.46H210.43" stroke="#000" stroke-width="1.4" stroke-dasharray="2.2 3.0"/><path d="M193.7 214.24L200.13 220.68M193.7 220.68L200.13 214.24M193.7 217.46H200.13M196.91 214.24V220.68" stroke="#000" stroke-width="1.2" fill="none"/><text transform="translate(177 230.89) scale(1 0.95)" text-anchor="end">NaBr in SPC/E (HNC)</text><path d="M183.4 227.59H210.43" stroke="#000" stroke-width="1.4" stroke-dasharray="1 1" stroke-dashoffset="0.4"/><rect x="193.65" y="224.32" width="6.53" height="6.53" stroke="#000" stroke-width="1.2" fill="none"/><rect x="196.41" y="227.09" width="1" height="1" fill="#000"/></g>
<g><rect x="281" y="190.2" width="175.8" height="115.5" fill="none" stroke="#444" stroke-width="0.9"/><path d="M281 305.7v-2.6M281 190.2v2.6M316.16 305.7v-2.6M316.16 190.2v2.6M351.32 305.7v-2.6M351.32 190.2v2.6M386.48 305.7v-2.6M386.48 190.2v2.6M421.64 305.7v-2.6M421.64 190.2v2.6M456.8 305.7v-2.6M456.8 190.2v2.6M281 305.7h2.6M456.8 305.7h-2.6M281 286.45h2.6M456.8 286.45h-2.6M281 267.2h2.6M456.8 267.2h-2.6M281 247.95h2.6M456.8 247.95h-2.6M281 228.7h2.6M456.8 228.7h-2.6M281 209.45h2.6M456.8 209.45h-2.6M281 190.2h2.6M456.8 190.2h-2.6" stroke="#444" stroke-width="0.9" fill="none"/><text transform="translate(281.8 319) scale(1 0.95)" text-anchor="middle">0</text><text transform="translate(316.96 319) scale(1 0.95)" text-anchor="middle">0.2</text><text transform="translate(352.12 319) scale(1 0.95)" text-anchor="middle">0.4</text><text transform="translate(387.28 319) scale(1 0.95)" text-anchor="middle">0.6</text><text transform="translate(422.44 319) scale(1 0.95)" text-anchor="middle">0.8</text><text transform="translate(457.6 319) scale(1 0.95)" text-anchor="middle">1</text><text transform="translate(274.8 308.9) scale(1 0.95)" text-anchor="end">0.4</text><text transform="translate(274.8 289.65) scale(1 0.95)" text-anchor="end">0.6</text><text transform="translate(274.8 270.4) scale(1 0.95)" text-anchor="end">0.8</text><text transform="translate(274.8 251.15) scale(1 0.95)" text-anchor="end">1</text><text transform="translate(274.8 231.9) scale(1 0.95)" text-anchor="end">1.2</text><text transform="translate(274.8 212.65) scale(1 0.95)" text-anchor="end">1.4</text><text transform="translate(274.8 193.4) scale(1 0.95)" text-anchor="end">1.6</text><text transform="translate(359 336.3) scale(1 0.95)">m<tspan dy="-5" font-size="8.2">1/2</tspan></text><text transform="translate(367 353.4) scale(1 0.95)" text-anchor="middle" font-size="9.4">(e)</text><text transform="translate(246.5 247.95) rotate(-90) scale(1 0.95)" text-anchor="middle" font-size="9.2">γ</text><path d="M281 247.95L286.56 251.32L288.86 252.57L293.43 254.98L298.58 257.38L305.86 260.46L320.31 265.56L336.59 270.09L359.62 274.9L405.31 280.96L456.8 284.81" stroke="#2a4cff" stroke-width="1.35" fill="none"/><path d="M277.78 247.95H284.22M281 244.73V251.17" stroke="#2a4cff" stroke-width="1.2" fill="none"/><path d="M283.34 251.32H289.77M286.56 248.1V254.54" stroke="#2a4cff" stroke-width="1.2" fill="none"/><path d="M285.64 252.57H292.08M288.86 249.35V255.79" stroke="#2a4cff" stroke-width="1.2" fill="none"/><path d="M290.21 254.98H296.65M293.43 251.76V258.19" stroke="#2a4cff" stroke-width="1.2" fill="none"/><path d="M295.36 257.38H301.8M298.58 254.16V260.6" stroke="#2a4cff" stroke-width="1.2" fill="none"/><path d="M302.64 260.46H309.08M305.86 257.25V263.68" stroke="#2a4cff" stroke-width="1.2" fill="none"/><path d="M317.09 265.56H323.53M320.31 262.35V268.78" stroke="#2a4cff" stroke-width="1.2" fill="none"/><path d="M333.37 270.09H339.81M336.59 266.87V273.3" stroke="#2a4cff" stroke-width="1.2" fill="none"/><path d="M356.4 274.9H362.84M359.62 271.68V278.12" stroke="#2a4cff" stroke-width="1.2" fill="none"/><path d="M402.09 280.96H408.53M405.31 277.75V284.18" stroke="#2a4cff" stroke-width="1.2" fill="none"/><path d="M453.58 284.81H460.02M456.8 281.6V288.03" stroke="#2a4cff" stroke-width="1.2" fill="none"/><path d="M281 247.95L286.56 251.32L288.86 252.57L293.43 254.78L298.58 257.29L305.86 259.98L320.31 262.87L336.59 264.31L359.62 266.24L405.31 260.46L456.8 244.1" stroke="#000" stroke-width="1.4" stroke-dasharray="4.5 1.62" fill="none"/><path d="M277.88 244.83L284.12 251.07M277.88 251.07L284.12 244.83" stroke="#000" stroke-width="1.2" fill="none"/><path d="M283.44 248.2L289.67 254.44M283.44 254.44L289.67 248.2" stroke="#000" stroke-width="1.2" fill="none"/><path d="M285.74 249.45L291.98 255.69M285.74 255.69L291.98 249.45" stroke="#000" stroke-width="1.2" fill="none"/><path d="M290.31 251.67L296.55 257.9M290.31 257.9L296.55 251.67" stroke="#000" stroke-width="1.2" fill="none"/><path d="M295.46 254.17L301.7 260.4M295.46 260.4L301.7 254.17" stroke="#000" stroke-width="1.2" fill="none"/><path d="M302.74 256.86L308.98 263.1M302.74 263.1L308.98 256.86" stroke="#000" stroke-width="1.2" fill="none"/><path d="M317.19 259.75L323.43 265.99M317.19 265.99L323.43 259.75" stroke="#000" stroke-width="1.2" fill="none"/><path d="M333.47 261.19L339.71 267.43M333.47 267.43L339.71 261.19" stroke="#000" stroke-width="1.2" fill="none"/><path d="M356.5 263.12L362.74 269.36M356.5 269.36L362.74 263.12" stroke="#000" stroke-width="1.2" fill="none"/><path d="M402.19 257.34L408.43 263.58M402.19 263.58L408.43 257.34" stroke="#000" stroke-width="1.2" fill="none"/><path d="M453.68 240.98L459.92 247.22M453.68 247.22L459.92 240.98" stroke="#000" stroke-width="1.2" fill="none"/><path d="M281 247.95L286.56 251.32L288.86 252.57L293.43 254.78L298.58 257.29L305.86 260.17L320.31 265.27L336.59 268.64L359.62 271.53L405.31 271.05L456.8 262.39" stroke="#000" stroke-width="1.4" stroke-dasharray="2.2 3.0" fill="none"/><path d="M277.78 244.73L284.22 251.17M277.78 251.17L284.22 244.73M277.78 247.95H284.22M281 244.73V251.17" stroke="#000" stroke-width="1.2" fill="none"/><path d="M283.34 248.1L289.77 254.54M283.34 254.54L289.77 248.1M283.34 251.32H289.77M286.56 248.1V254.54" stroke="#000" stroke-width="1.2" fill="none"/><path d="M285.64 249.35L292.08 255.79M285.64 255.79L292.08 249.35M285.64 252.57H292.08M288.86 249.35V255.79" stroke="#000" stroke-width="1.2" fill="none"/><path d="M290.21 251.57L296.65 258M290.21 258L296.65 251.57M290.21 254.78H296.65M293.43 251.57V258" stroke="#000" stroke-width="1.2" fill="none"/><path d="M295.36 254.07L301.8 260.5M295.36 260.5L301.8 254.07M295.36 257.29H301.8M298.58 254.07V260.5" stroke="#000" stroke-width="1.2" fill="none"/><path d="M302.64 256.96L309.08 263.39M302.64 263.39L309.08 256.96M302.64 260.17H309.08M305.86 256.96V263.39" stroke="#000" stroke-width="1.2" fill="none"/><path d="M317.09 262.06L323.53 268.49M317.09 268.49L323.53 262.06M317.09 265.27H323.53M320.31 262.06V268.49" stroke="#000" stroke-width="1.2" fill="none"/><path d="M333.37 265.43L339.81 271.86M333.37 271.86L339.81 265.43M333.37 268.64H339.81M336.59 265.43V271.86" stroke="#000" stroke-width="1.2" fill="none"/><path d="M356.4 268.31L362.84 274.75M356.4 274.75L362.84 268.31M356.4 271.53H362.84M359.62 268.31V274.75" stroke="#000" stroke-width="1.2" fill="none"/><path d="M402.09 267.83L408.53 274.27M402.09 274.27L408.53 267.83M402.09 271.05H408.53M405.31 267.83V274.27" stroke="#000" stroke-width="1.2" fill="none"/><path d="M453.58 259.17L460.02 265.6M453.58 265.6L460.02 259.17M453.58 262.39H460.02M456.8 259.17V265.6" stroke="#000" stroke-width="1.2" fill="none"/><path d="M281 247.95L286.56 251.61L288.86 252.95L293.43 255.17L298.58 258.06L305.86 260.94L320.31 266.24L336.59 270.09L359.62 273.94L405.31 272.97L456.8 265.76" stroke="#000" stroke-width="1.4" stroke-dasharray="1.04 1.0" fill="none"/><rect x="277.73" y="244.68" width="6.53" height="6.53" stroke="#000" stroke-width="1.2" fill="none"/><rect x="280.5" y="247.45" width="1" height="1" fill="#000"/><rect x="283.29" y="248.34" width="6.53" height="6.53" stroke="#000" stroke-width="1.2" fill="none"/><rect x="286.06" y="251.11" width="1" height="1" fill="#000"/><rect x="285.59" y="249.69" width="6.53" height="6.53" stroke="#000" stroke-width="1.2" fill="none"/><rect x="288.36" y="252.45" width="1" height="1" fill="#000"/><rect x="290.16" y="251.9" width="6.53" height="6.53" stroke="#000" stroke-width="1.2" fill="none"/><rect x="292.93" y="254.67" width="1" height="1" fill="#000"/><rect x="295.31" y="254.79" width="6.53" height="6.53" stroke="#000" stroke-width="1.2" fill="none"/><rect x="298.08" y="257.56" width="1" height="1" fill="#000"/><rect x="302.59" y="257.68" width="6.53" height="6.53" stroke="#000" stroke-width="1.2" fill="none"/><rect x="305.36" y="260.44" width="1" height="1" fill="#000"/><rect x="317.04" y="262.97" width="6.53" height="6.53" stroke="#000" stroke-width="1.2" fill="none"/><rect x="319.81" y="265.74" width="1" height="1" fill="#000"/><rect x="333.32" y="266.82" width="6.53" height="6.53" stroke="#000" stroke-width="1.2" fill="none"/><rect x="336.09" y="269.59" width="1" height="1" fill="#000"/><rect x="356.35" y="270.67" width="6.53" height="6.53" stroke="#000" stroke-width="1.2" fill="none"/><rect x="359.12" y="273.44" width="1" height="1" fill="#000"/><rect x="402.04" y="269.71" width="6.53" height="6.53" stroke="#000" stroke-width="1.2" fill="none"/><rect x="404.81" y="272.47" width="1" height="1" fill="#000"/><rect x="453.53" y="262.49" width="6.53" height="6.53" stroke="#000" stroke-width="1.2" fill="none"/><rect x="456.3" y="265.26" width="1" height="1" fill="#000"/><text transform="translate(408.6 200.5) scale(1 0.95)" text-anchor="end">KBr (Exp)</text><path d="M415 197.2H442.03" stroke="#2a4cff" stroke-width="1.35"/><path d="M425.3 197.2H431.73M428.51 193.98V200.42" stroke="#2a4cff" stroke-width="1.2" fill="none"/><text transform="translate(408.6 210.63) scale(1 0.95)" text-anchor="end">KBr in SPC/E (KH)</text><path d="M415 207.33H442.03" stroke="#000" stroke-width="1.4" stroke-dasharray="4.5 1.62"/><path d="M425.4 204.21L431.63 210.45M425.4 210.45L431.63 204.21" stroke="#000" stroke-width="1.2" fill="none"/><text transform="translate(408.6 220.76) scale(1 0.95)" text-anchor="end">KBr in SPC/E (PSE-3)</text><path d="M415 217.46H442.03" stroke="#000" stroke-width="1.4" stroke-dasharray="2.2 3.0"/><path d="M425.3 214.24L431.73 220.68M425.3 220.68L431.73 214.24M425.3 217.46H431.73M428.51 214.24V220.68" stroke="#000" stroke-width="1.2" fill="none"/><text transform="translate(408.6 230.89) scale(1 0.95)" text-anchor="end">KBr in SPC/E (HNC)</text><path d="M415 227.59H442.03" stroke="#000" stroke-width="1.4" stroke-dasharray="1 1" stroke-dashoffset="0"/><rect x="425.25" y="224.32" width="6.53" height="6.53" stroke="#000" stroke-width="1.2" fill="none"/><rect x="428.01" y="227.09" width="1" height="1" fill="#000"/></g>
<g><rect x="518.4" y="190.2" width="175.8" height="115.5" fill="none" stroke="#444" stroke-width="0.9"/><path d="M518.4 305.7v-2.6M518.4 190.2v2.6M553.56 305.7v-2.6M553.56 190.2v2.6M588.72 305.7v-2.6M588.72 190.2v2.6M623.88 305.7v-2.6M623.88 190.2v2.6M659.04 305.7v-2.6M659.04 190.2v2.6M694.2 305.7v-2.6M694.2 190.2v2.6M518.4 305.7h2.6M694.2 305.7h-2.6M518.4 286.45h2.6M694.2 286.45h-2.6M518.4 267.2h2.6M694.2 267.2h-2.6M518.4 247.95h2.6M694.2 247.95h-2.6M518.4 228.7h2.6M694.2 228.7h-2.6M518.4 209.45h2.6M694.2 209.45h-2.6M518.4 190.2h2.6M694.2 190.2h-2.6" stroke="#444" stroke-width="0.9" fill="none"/><text transform="translate(519.2 319) scale(1 0.95)" text-anchor="middle">0</text><text transform="translate(554.36 319) scale(1 0.95)" text-anchor="middle">0.2</text><text transform="translate(589.52 319) scale(1 0.95)" text-anchor="middle">0.4</text><text transform="translate(624.68 319) scale(1 0.95)" text-anchor="middle">0.6</text><text transform="translate(659.84 319) scale(1 0.95)" text-anchor="middle">0.8</text><text transform="translate(695 319) scale(1 0.95)" text-anchor="middle">1</text><text transform="translate(512.2 308.9) scale(1 0.95)" text-anchor="end">0.4</text><text transform="translate(512.2 289.65) scale(1 0.95)" text-anchor="end">0.6</text><text transform="translate(512.2 270.4) scale(1 0.95)" text-anchor="end">0.8</text><text transform="translate(512.2 251.15) scale(1 0.95)" text-anchor="end">1</text><text transform="translate(512.2 231.9) scale(1 0.95)" text-anchor="end">1.2</text><text transform="translate(512.2 212.65) scale(1 0.95)" text-anchor="end">1.4</text><text transform="translate(512.2 193.4) scale(1 0.95)" text-anchor="end">1.6</text><text transform="translate(596.4 336.3) scale(1 0.95)">m<tspan dy="-5" font-size="8.2">1/2</tspan></text><text transform="translate(604.4 353.4) scale(1 0.95)" text-anchor="middle" font-size="9.4">(f)</text><text transform="translate(483.9 247.95) rotate(-90) scale(1 0.95)" text-anchor="middle" font-size="9.2">γ</text><path d="M518.4 247.95L523.96 251.32L526.26 252.57L530.83 254.88L535.98 257.29L543.26 260.27L557.71 265.27L573.99 269.61L597.02 273.94L642.71 279.23L694.2 282.12" stroke="#2a4cff" stroke-width="1.35" fill="none"/><path d="M515.18 247.95H521.62M518.4 244.73V251.17" stroke="#2a4cff" stroke-width="1.2" fill="none"/><path d="M520.74 251.32H527.17M523.96 248.1V254.54" stroke="#2a4cff" stroke-width="1.2" fill="none"/><path d="M523.04 252.57H529.48M526.26 249.35V255.79" stroke="#2a4cff" stroke-width="1.2" fill="none"/><path d="M527.61 254.88H534.05M530.83 251.66V258.1" stroke="#2a4cff" stroke-width="1.2" fill="none"/><path d="M532.76 257.29H539.2M535.98 254.07V260.5" stroke="#2a4cff" stroke-width="1.2" fill="none"/><path d="M540.04 260.27H546.48M543.26 257.05V263.49" stroke="#2a4cff" stroke-width="1.2" fill="none"/><path d="M554.49 265.27H560.93M557.71 262.06V268.49" stroke="#2a4cff" stroke-width="1.2" fill="none"/><path d="M570.77 269.61H577.21M573.99 266.39V272.82" stroke="#2a4cff" stroke-width="1.2" fill="none"/><path d="M593.8 273.94H600.24M597.02 270.72V277.15" stroke="#2a4cff" stroke-width="1.2" fill="none"/><path d="M639.49 279.23H645.93M642.71 276.01V282.45" stroke="#2a4cff" stroke-width="1.2" fill="none"/><path d="M690.98 282.12H697.42M694.2 278.9V285.34" stroke="#2a4cff" stroke-width="1.2" fill="none"/><path d="M518.4 247.95L523.96 251.32L526.26 252.57L530.83 254.69L535.98 257.09L543.26 259.5L557.71 261.91L573.99 262.39L597.02 260.94L642.71 250.84L694.2 221" stroke="#000" stroke-width="1.4" stroke-dasharray="4.5 1.62" fill="none"/><path d="M515.28 244.83L521.52 251.07M515.28 251.07L521.52 244.83" stroke="#000" stroke-width="1.2" fill="none"/><path d="M520.84 248.2L527.07 254.44M520.84 254.44L527.07 248.2" stroke="#000" stroke-width="1.2" fill="none"/><path d="M523.14 249.45L529.38 255.69M523.14 255.69L529.38 249.45" stroke="#000" stroke-width="1.2" fill="none"/><path d="M527.71 251.57L533.95 257.81M527.71 257.81L533.95 251.57" stroke="#000" stroke-width="1.2" fill="none"/><path d="M532.86 253.98L539.1 260.21M532.86 260.21L539.1 253.98" stroke="#000" stroke-width="1.2" fill="none"/><path d="M540.14 256.38L546.38 262.62M540.14 262.62L546.38 256.38" stroke="#000" stroke-width="1.2" fill="none"/><path d="M554.59 258.79L560.83 265.02M554.59 265.02L560.83 258.79" stroke="#000" stroke-width="1.2" fill="none"/><path d="M570.87 259.27L577.11 265.51M570.87 265.51L577.11 259.27" stroke="#000" stroke-width="1.2" fill="none"/><path d="M593.9 257.83L600.14 264.06M593.9 264.06L600.14 257.83" stroke="#000" stroke-width="1.2" fill="none"/><path d="M639.59 247.72L645.83 253.96M639.59 253.96L645.83 247.72" stroke="#000" stroke-width="1.2" fill="none"/><path d="M691.08 217.88L697.32 224.12M691.08 224.12L697.32 217.88" stroke="#000" stroke-width="1.2" fill="none"/><path d="M518.4 247.95L523.96 251.32L526.26 252.57L530.83 254.69L535.98 257.09L543.26 259.69L557.71 263.35L573.99 264.89L597.02 265.76L642.71 259.31L694.2 238.81" stroke="#000" stroke-width="1.4" stroke-dasharray="2.2 3.0" fill="none"/><path d="M515.18 244.73L521.62 251.17M515.18 251.17L521.62 244.73M515.18 247.95H521.62M518.4 244.73V251.17" stroke="#000" stroke-width="1.2" fill="none"/><path d="M520.74 248.1L527.17 254.54M520.74 254.54L527.17 248.1M520.74 251.32H527.17M523.96 248.1V254.54" stroke="#000" stroke-width="1.2" fill="none"/><path d="M523.04 249.35L529.48 255.79M523.04 255.79L529.48 249.35M523.04 252.57H529.48M526.26 249.35V255.79" stroke="#000" stroke-width="1.2" fill="none"/><path d="M527.61 251.47L534.05 257.9M527.61 257.9L534.05 251.47M527.61 254.69H534.05M530.83 251.47V257.9" stroke="#000" stroke-width="1.2" fill="none"/><path d="M532.76 253.88L539.2 260.31M532.76 260.31L539.2 253.88M532.76 257.09H539.2M535.98 253.88V260.31" stroke="#000" stroke-width="1.2" fill="none"/><path d="M540.04 256.48L546.48 262.91M540.04 262.91L546.48 256.48M540.04 259.69H546.48M543.26 256.48V262.91" stroke="#000" stroke-width="1.2" fill="none"/><path d="M554.49 260.13L560.93 266.57M554.49 266.57L560.93 260.13M554.49 263.35H560.93M557.71 260.13V266.57" stroke="#000" stroke-width="1.2" fill="none"/><path d="M570.77 261.67L577.21 268.11M570.77 268.11L577.21 261.67M570.77 264.89H577.21M573.99 261.67V268.11" stroke="#000" stroke-width="1.2" fill="none"/><path d="M593.8 262.54L600.24 268.97M593.8 268.97L600.24 262.54M593.8 265.76H600.24M597.02 262.54V268.97" stroke="#000" stroke-width="1.2" fill="none"/><path d="M639.49 256.09L645.93 262.52M639.49 262.52L645.93 256.09M639.49 259.31H645.93M642.71 256.09V262.52" stroke="#000" stroke-width="1.2" fill="none"/><path d="M690.98 235.59L697.42 242.02M690.98 242.02L697.42 235.59M690.98 238.81H697.42M694.2 235.59V242.02" stroke="#000" stroke-width="1.2" fill="none"/><path d="M518.4 247.95L523.96 251.61L526.26 252.95L530.83 255.17L535.98 257.57L543.26 260.27L557.71 264.31L573.99 265.95L597.02 266.91L642.71 261.23L694.2 241.69" stroke="#000" stroke-width="1.4" stroke-dasharray="1.04 1.0" fill="none"/><rect x="515.13" y="244.68" width="6.53" height="6.53" stroke="#000" stroke-width="1.2" fill="none"/><rect x="517.9" y="247.45" width="1" height="1" fill="#000"/><rect x="520.69" y="248.34" width="6.53" height="6.53" stroke="#000" stroke-width="1.2" fill="none"/><rect x="523.46" y="251.11" width="1" height="1" fill="#000"/><rect x="522.99" y="249.69" width="6.53" height="6.53" stroke="#000" stroke-width="1.2" fill="none"/><rect x="525.76" y="252.45" width="1" height="1" fill="#000"/><rect x="527.56" y="251.9" width="6.53" height="6.53" stroke="#000" stroke-width="1.2" fill="none"/><rect x="530.33" y="254.67" width="1" height="1" fill="#000"/><rect x="532.71" y="254.31" width="6.53" height="6.53" stroke="#000" stroke-width="1.2" fill="none"/><rect x="535.48" y="257.07" width="1" height="1" fill="#000"/><rect x="539.99" y="257" width="6.53" height="6.53" stroke="#000" stroke-width="1.2" fill="none"/><rect x="542.76" y="259.77" width="1" height="1" fill="#000"/><rect x="554.44" y="261.05" width="6.53" height="6.53" stroke="#000" stroke-width="1.2" fill="none"/><rect x="557.21" y="263.81" width="1" height="1" fill="#000"/><rect x="570.72" y="262.68" width="6.53" height="6.53" stroke="#000" stroke-width="1.2" fill="none"/><rect x="573.49" y="265.45" width="1" height="1" fill="#000"/><rect x="593.75" y="263.64" width="6.53" height="6.53" stroke="#000" stroke-width="1.2" fill="none"/><rect x="596.52" y="266.41" width="1" height="1" fill="#000"/><rect x="639.44" y="257.97" width="6.53" height="6.53" stroke="#000" stroke-width="1.2" fill="none"/><rect x="642.21" y="260.73" width="1" height="1" fill="#000"/><rect x="690.93" y="238.43" width="6.53" height="6.53" stroke="#000" stroke-width="1.2" fill="none"/><rect x="693.7" y="241.19" width="1" height="1" fill="#000"/><text transform="translate(639.9 200.5) scale(1 0.95)" text-anchor="end">KI (Exp)</text><path d="M646.3 197.2H673.33" stroke="#2a4cff" stroke-width="1.35"/><path d="M656.6 197.2H663.03M659.81 193.98V200.42" stroke="#2a4cff" stroke-width="1.2" fill="none"/><text transform="translate(639.9 210.63) scale(1 0.95)" text-anchor="end">KI in SPC/E (KH)</text><path d="M646.3 207.33H673.33" stroke="#000" stroke-width="1.4" stroke-dasharray="4.5 1.62"/><path d="M656.69 204.21L662.93 210.45M656.69 210.45L662.93 204.21" stroke="#000" stroke-width="1.2" fill="none"/><text transform="translate(639.9 220.76) scale(1 0.95)" text-anchor="end">KI in SPC/E (PSE-3)</text><path d="M646.3 217.46H673.33" stroke="#000" stroke-width="1.4" stroke-dasharray="2.2 3.0"/><path d="M656.6 214.24L663.03 220.68M656.6 220.68L663.03 214.24M656.6 217.46H663.03M659.81 214.24V220.68" stroke="#000" stroke-width="1.2" fill="none"/><text transform="translate(639.9 230.89) scale(1 0.95)" text-anchor="end">KI in SPC/E (HNC)</text><path d="M646.3 227.59H673.33" stroke="#000" stroke-width="1.4" stroke-dasharray="1 1" stroke-dashoffset="0.3"/><rect x="656.55" y="224.32" width="6.53" height="6.53" stroke="#000" stroke-width="1.2" fill="none"/><rect x="659.31" y="227.09" width="1" height="1" fill="#000"/></g>
</svg>
</body></html>
